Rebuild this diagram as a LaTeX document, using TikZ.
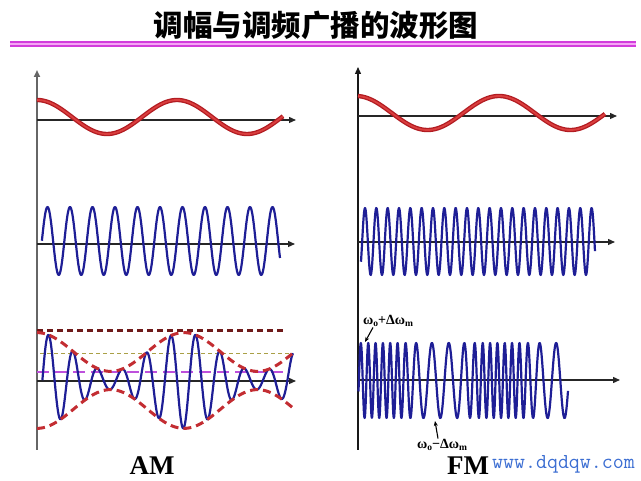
\documentclass[tikz,border=0pt]{standalone}
\usepackage{fontspec}
\setmainfont{Liberation Serif}
\newfontfamily\cjkfont{Noto Sans CJK SC}
\usetikzlibrary{arrows.meta}
\definecolor{wavered}{RGB}{218,62,62}
\definecolor{wavereddark}{RGB}{178,28,34}
\definecolor{waveblue}{RGB}{30,30,150}
\definecolor{envred}{RGB}{195,45,50}
\definecolor{topdash}{RGB}{110,25,25}
\definecolor{olivedash}{RGB}{170,160,70}
\definecolor{violetdash}{RGB}{190,80,220}
\definecolor{barmag}{RGB}{210,60,220}
\definecolor{barlight}{RGB}{245,165,245}
\definecolor{urlblue}{RGB}{60,110,210}
\newcommand\sbs[1]{\raisebox{-0.35ex}{\fontsize{9.5}{9.5}\selectfont #1}}
\begin{document}
\begin{tikzpicture}[x=1pt,y=-1pt,
  haxis/.style={line width=1.3pt, black!85, -{Triangle[length=7pt,width=6pt]}},
  vaxisgray/.style={line width=2pt, black!60, -{Triangle[length=7pt,width=6pt]}},
  vaxisblack/.style={line width=1.3pt, black!90, -{Triangle[length=7pt,width=6pt]}},
  redouter/.style={wavereddark, line width=4.4pt},
  redinner/.style={wavered, line width=1.8pt},
  bluewave/.style={waveblue, line width=2.2pt, line join=round},
  envelope/.style={envred, line width=3pt, dash pattern=on 8pt off 5pt},
  ptr/.style={black, line width=1.1pt, -{Stealth[length=5pt,width=4pt]}},
  lbl/.style={inner sep=0.5pt, font=\bfseries\fontsize{14}{14}\selectfont},
  big/.style={inner sep=0pt, font=\bfseries\fontsize{27}{27}\selectfont}
]
\useasboundingbox (0,0) rectangle (641,481);

% title and bar
\node (title) at (316,25) {\cjkfont\bfseries\fontsize{29.5}{29.5}\selectfont 调幅与调频广播的波形图};
\coordinate (barL) at (10,44);
\coordinate (barR) at (636,44);
\draw[barmag, line width=6.5pt] (barL) -- (barR);
\draw[barlight, line width=1.2pt] (barL) -- (barR);

% ---------- AM axes ----------
\coordinate (amVb) at (37,450);
\coordinate (amVt) at (37,70);
\coordinate (amH1a) at (37,120);  \coordinate (amH1b) at (296,120);
\coordinate (amH2a) at (37,244);  \coordinate (amH2b) at (295,244);
\coordinate (amH3a) at (37,381);  \coordinate (amH3b) at (296,381);
\draw[vaxisgray] (amVb) -- (amVt);
\draw[haxis] (amH1a) -- (amH1b);
\draw[haxis] (amH2a) -- (amH2b);

% ---------- FM axes ----------
\coordinate (fmVb) at (358,450);
\coordinate (fmVt) at (358,67);
\coordinate (fmH1a) at (358,116);  \coordinate (fmH1b) at (617,116);
\coordinate (fmH2a) at (358,242);  \coordinate (fmH2b) at (615,242);
\coordinate (fmH3a) at (358,380);  \coordinate (fmH3b) at (620,380);
\draw[vaxisblack] (fmVb) -- (fmVt);
\draw[haxis] (fmH1a) -- (fmH1b);
\draw[haxis] (fmH2a) -- (fmH2b);
\draw[haxis] (fmH3a) -- (fmH3b);

% ---------- modulating signals ----------
\draw[redouter] plot[domain=37:283, samples=160, variable=\x] (\x, {117-17*cos(2.5714*(\x-37))});
\draw[redinner] plot[domain=37:283, samples=160, variable=\x] (\x, {117-17*cos(2.5714*(\x-37))});
\draw[redouter] plot[domain=358:605, samples=160, variable=\x] (\x, {113-17*cos(2.5175*(\x-356))});
\draw[redinner] plot[domain=358:605, samples=160, variable=\x] (\x, {113-17*cos(2.5175*(\x-356))});

% ---------- carriers ----------
\draw[bluewave] plot[domain=41.9:280, samples=400, variable=\x] (\x, {241-34*sin(16*(\x-41.875))});
\draw[bluewave] plot[domain=361:595, samples=600, variable=\x] (\x, {241.5-33.5*sin(31.77*(\x-362.17))});

% ---------- AM modulated ----------
\coordinate (tdA) at (37,330.7);  \coordinate (tdB) at (283,330.7);
\coordinate (odA) at (40,353.3);  \coordinate (odB) at (290,353.3);
\coordinate (vdA) at (37,372);    \coordinate (vdB) at (290,372);
\draw[topdash, line width=2.5pt, dash pattern=on 6pt off 4pt] (tdA) -- (tdB);
\draw[olivedash, line width=1pt, dash pattern=on 4pt off 3pt] (odA) -- (odB);
\draw[violetdash, line width=2pt, dash pattern=on 12pt off 6pt] (vdA) -- (vdB);
\draw[haxis] (amH3a) -- (amH3b);
\draw[bluewave] plot[domain=42.4:293, samples=500, variable=\x]
  (\x, {380.5-28.5*(1+0.68*cos(2.449*(\x-37)))*sin(14.694*(\x-42.375))});
\draw[envelope] plot[domain=37:293, samples=120, variable=\x]
  (\x, {380.5-28.5*(1+0.68*cos(2.449*(\x-37)))});
\draw[envelope] plot[domain=37:293, samples=120, variable=\x]
  (\x, {380.5+28.5*(1+0.68*cos(2.449*(\x-37)))});

% ---------- FM modulated ----------
\draw[bluewave] plot[domain=358.5:568, samples=900, variable=\x]
  (\x, {380.5-37.5*sin(-90+35.25*(\x-358.5)+313.5*(sin(3*(\x-380))-sin(9*(\x-380))/18))});

% labels
\node[lbl] (lp) at (388,321) {ω\sbs{o}+Δω\sbs{m}};
\coordinate (lpt) at (365,342);
\draw[ptr] ([xshift=-15pt]lp.south) -- (lpt);
\node[lbl] (lm) at (442,445) {ω\sbs{o}−Δω\sbs{m}};
\coordinate (lmt) at (435,421);
\draw[ptr] ([xshift=-4pt]lm.north) -- (lmt);

\node[big] (am) at (152,466) {AM};
\node[big] (fm) at (468,466) {FM};
\node[font=\ttfamily\fontsize{21.3}{21.3}\selectfont, text=urlblue, inner sep=0pt] (url) at (563.5,464) {www.dqdqw.com};
\end{tikzpicture}
\end{document}
